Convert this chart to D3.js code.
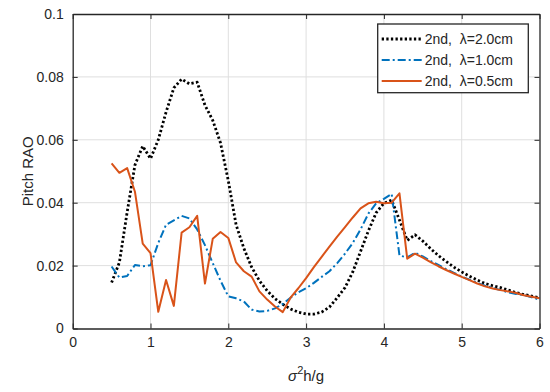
<!DOCTYPE html>
<html>
<head>
<meta charset="utf-8">
<script src="https://cdn.jsdelivr.net/npm/d3@7"></script>
<style>
  body { margin: 0; background: #fff; }
  svg text { font-family: Arial, "Liberation Sans", sans-serif; fill: #262626; }
</style>
</head>
<body>
<svg id="chart"></svg>
<script>
// sample positions (sigma^2 h/g)
const xSteps = [0.5,0.6,0.7,0.8,0.9,1.0,1.1,1.2,1.3,1.4,1.5,1.6,1.7,1.8,1.9,2.0,2.1,2.2,2.3,2.4,2.5,2.6,2.7,2.8,2.9,3.0,3.1,3.2,3.3,3.4,3.5,3.6,3.7,3.8,3.9,4.0,4.1,4.2,4.3,4.4,4.5,4.6,4.7,4.8,4.9,5.0,5.1,5.2,5.3,5.4,5.5,5.6,5.7,5.8,5.9,6.0];

// lambda = 2.0 cm
const rao20 = [0.0146,0.021,0.037,0.052,0.058,0.054,0.060,0.0688,0.0765,0.0793,0.0778,0.0783,0.071,0.0662,0.059,0.047,0.033,0.0255,0.0195,0.0152,0.012,0.0095,0.0077,0.0062,0.0052,0.0046,0.0046,0.0052,0.0068,0.0098,0.013,0.018,0.0245,0.031,0.0368,0.0398,0.0408,0.0345,0.028,0.0298,0.0278,0.0254,0.0232,0.0213,0.0195,0.018,0.0166,0.0154,0.0143,0.0136,0.013,0.0122,0.0114,0.0108,0.0103,0.0098];
// lambda = 1.0 cm
const rao10 = [0.0197,0.0162,0.0167,0.0202,0.0198,0.0201,0.0272,0.033,0.0344,0.0358,0.035,0.0315,0.0265,0.0208,0.0152,0.0102,0.0096,0.0086,0.006,0.0054,0.0056,0.0064,0.0078,0.0098,0.0115,0.0128,0.0145,0.0164,0.0182,0.0208,0.0238,0.0272,0.0315,0.0365,0.0398,0.0412,0.0428,0.0232,0.0226,0.0241,0.0229,0.0215,0.0202,0.0189,0.0177,0.0165,0.0155,0.0145,0.0136,0.0129,0.0122,0.0115,0.011,0.0106,0.0099,0.0092];
// lambda = 0.5 cm
const rao05 = [0.0525,0.0495,0.051,0.0435,0.027,0.024,0.0053,0.0154,0.0072,0.0305,0.0322,0.0358,0.0143,0.0285,0.0307,0.0288,0.021,0.0182,0.0165,0.0118,0.0092,0.007,0.0052,0.0098,0.0128,0.016,0.0195,0.0228,0.026,0.0292,0.0322,0.0353,0.0382,0.0398,0.0403,0.0398,0.04,0.043,0.0222,0.0238,0.0225,0.0211,0.0198,0.0186,0.0175,0.0164,0.0154,0.0143,0.0134,0.0127,0.0122,0.0118,0.0113,0.0106,0.0101,0.0096];

const seriesNames = ["2nd,\u00A0 \u03BB=2.0cm", "2nd,\u00A0 \u03BB=1.0cm", "2nd,\u00A0 \u03BB=0.5cm"];
const xTicks = [0,1,2,3,4,5,6];
const yTicks = [0,0.02,0.04,0.06,0.08,0.1];

const W = 550, H = 392;
const margin = { top: 14, right: 10.5, bottom: 63.5, left: 72.7 };
const width = W - margin.left - margin.right;
const height = H - margin.top - margin.bottom;
const axisColor = "#262626";

const svg = d3.select("#chart").attr("width", W).attr("height", H);
const g = svg.append("g").attr("transform", `translate(${margin.left},${margin.top})`);

const x = d3.scaleLinear().domain([0, 6]).range([0, width]);
const y = d3.scaleLinear().domain([0, 0.1]).range([height, 0]);

// grid
g.append("g").selectAll("line").data(xTicks.slice(1, -1)).join("line")
  .attr("x1", d => x(d)).attr("x2", d => x(d)).attr("y1", 0).attr("y2", height)
  .attr("stroke", "#dfdfdf").attr("stroke-width", 1);
g.append("g").selectAll("line").data(yTicks.slice(1, -1)).join("line")
  .attr("y1", d => y(d)).attr("y2", d => y(d)).attr("x1", 0).attr("x2", width)
  .attr("stroke", "#dfdfdf").attr("stroke-width", 1);

// lines
const styles = [
  { data: rao20, color: "#000000", w: 2.8, dash: "2.3,2.3" },
  { data: rao10, color: "#0072BD", w: 2.0, dash: "8,3,2,3" },
  { data: rao05, color: "#D95319", w: 2.0, dash: null }
];
const line = d3.line().x((d, i) => x(xSteps[i])).y(d => y(d));
const plot = g.append("g");
styles.forEach(s => {
  plot.append("path").datum(s.data)
    .attr("d", line)
    .attr("fill", "none")
    .attr("stroke", s.color)
    .attr("stroke-width", s.w)
    .attr("stroke-dasharray", s.dash)
    .attr("stroke-linejoin", "round");
});

// axes (box with inward ticks)
const tk = 5;
g.append("g").attr("transform", `translate(0,${height})`)
  .call(d3.axisBottom(x).tickValues(xTicks).tickSizeInner(-tk).tickSizeOuter(0).tickPadding(9).tickFormat(d3.format("d")));
g.append("g")
  .call(d3.axisTop(x).tickValues(xTicks).tickSizeInner(-tk).tickSizeOuter(0).tickFormat(""));
g.append("g")
  .call(d3.axisLeft(y).tickValues(yTicks).tickSizeInner(-tk).tickSizeOuter(0).tickPadding(9).tickFormat(d => d === 0 ? "0" : d3.format("~g")(d)));
g.append("g").attr("transform", `translate(${width},0)`)
  .call(d3.axisRight(y).tickValues(yTicks).tickSizeInner(-tk).tickSizeOuter(0).tickFormat(""));

g.selectAll(".domain").attr("stroke", axisColor).attr("stroke-width", 1.3);
g.selectAll(".tick line").attr("stroke", axisColor).attr("stroke-width", 1);
g.selectAll(".tick text").attr("font-size", 14).style("fill", axisColor);

// axis labels
const xl = svg.append("text")
  .attr("x", margin.left + width / 2).attr("y", 381)
  .attr("text-anchor", "middle").attr("font-size", 15);
xl.append("tspan").attr("font-style", "italic").text("\u03C3");
xl.append("tspan").attr("dy", -7).attr("font-size", 11).text("2");
xl.append("tspan").attr("dy", 7).text("h/g");

svg.append("text")
  .attr("transform", `translate(33,${margin.top + height / 2}) rotate(-90)`)
  .attr("text-anchor", "middle").attr("font-size", 15)
  .text("Pitch RAO");

// legend
const lg = svg.append("g").attr("transform", "translate(377.7,24)");
lg.append("rect").attr("width", 150.6).attr("height", 68.7)
  .attr("fill", "#fff").attr("stroke", axisColor).attr("stroke-width", 1.3);
styles.forEach((s, i) => {
  const yy = 15 + i * 21;
  lg.append("line").attr("x1", 4).attr("x2", 44).attr("y1", yy).attr("y2", yy)
    .attr("stroke", s.color).attr("stroke-width", s.w)
    .attr("stroke-dasharray", s.dash);
  lg.append("text").attr("x", 47).attr("y", yy + 5).attr("font-size", 14)
    .text(seriesNames[i]);
});
</script>
</body>
</html>
